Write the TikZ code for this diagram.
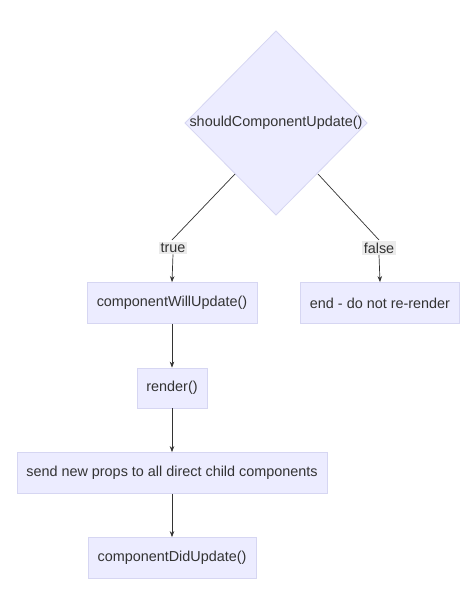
\documentclass[tikz,border=0pt]{standalone}
\usepackage{fontspec}
\setmainfont{Liberation Sans}
\usetikzlibrary{arrows.meta}
\definecolor{nodefill}{HTML}{ECECFF}
\definecolor{nodeline}{HTML}{D6D6F2}
\definecolor{txt}{HTML}{333333}
\definecolor{lblfill}{HTML}{EBEBEB}
\tikzset{
  box/.style={draw=nodeline, fill=nodefill, line width=0.8pt, text=txt, inner sep=0pt, minimum height=41pt, font=\fontsize{14.4}{17}\selectfont},
  lbl/.style={fill=lblfill, text=txt, inner sep=1.5pt, font=\fontsize{14.4}{17}\selectfont},
  conn/.style={draw=black!80, line width=0.7pt},
  arr/.style={conn, -{Stealth[length=6pt,width=4.5pt]}}
}
\begin{document}
\begin{tikzpicture}[x=1pt,y=-1pt]
\useasboundingbox[fill=white] (0,0) rectangle (474,603);
% diamond corners
\coordinate (dT) at (276,31);
\coordinate (dR) at (367,123);
\coordinate (dB) at (276,215);
\coordinate (dL) at (185,123);
\fill[nodefill, draw=nodeline, line width=0.8pt] (dT) -- (dR) -- (dB) -- (dL) -- cycle;
\node[text=txt, font=\fontsize{14.4}{17}\selectfont] (q) at (276,123) {shouldComponentUpdate()};
\coordinate (eL) at (235,174);
\coordinate (eR) at (318,174);

\node[box, minimum width=170pt] (will) at (172,303) {componentWillUpdate()};
\node[box, minimum width=159pt] (endn) at (380,303) {end - do not re-render};
\node[box, minimum width=70pt, minimum height=40pt] (render) at (172,388) {render()};
\node[box, minimum width=310pt] (send) at (172,473) {send new props to all direct child components};
\node[box, minimum width=168pt] (did) at (172,558) {componentDidUpdate()};

\draw[conn] (eL) -- (172,240) coordinate (tT);
\draw[conn] (eR) -- (379,240) coordinate (fT);
\node[lbl] (t) at (173,248) {true};
\node[lbl] (f) at (379,248) {false};

\draw[arr] (t.south) -- (will.north);
\draw[arr] (f.south) -- (endn.north);
\draw[arr] (will.south) -- (render.north);
\draw[arr] (render.south) -- (send.north);
\draw[arr] (send.south) -- (did.north);
\end{tikzpicture}
\end{document}
